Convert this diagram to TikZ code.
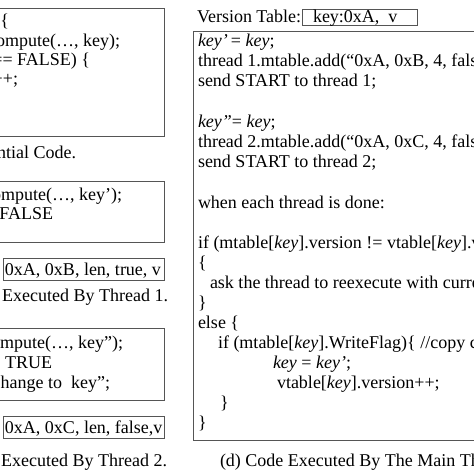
\documentclass[tikz,border=0pt]{standalone}
\usepackage{fontspec}
\setmainfont{Liberation Serif}
\usepackage{tikz}
\usetikzlibrary{positioning}
\definecolor{Frame}{HTML}{555555}

\begin{document}
\begin{tikzpicture}[x=1pt,y=-1pt,font=\fontsize{18}{20.2}\selectfont,
  every node/.style={inner sep=0pt,outer sep=0pt},
  frame/.style={draw=Frame,line width=0.9pt,rectangle},
  codeline/.style={anchor=base west},
  cutline/.style={anchor=base east}]
  \fill[white] (0,0) rectangle (474,474);
  \clip (0,0) rectangle (474,474);
  % (a) sequential code
  \node[frame,anchor=north east,minimum width=170pt,minimum height=128pt] (seqbox) at (164,8) {};
  \node[cutline] (seq1) at (9,26) {for (i = 0; i < n; i++)\{};
  \node[cutline] (seq2) at (120,46) {r = compute(…, key);};
  \node[cutline] (seq3) at (90,65) {if (r == FALSE)\ \{};
  \node[cutline] (seq4) at (18,84) {count++;};
  \node[cutline] (capa) at (76,158) {(a) Sequential Code.};
  % (b) thread 1
  \node[frame,anchor=north east,minimum width=170pt,minimum height=61pt] (tonebox) at (164,181) {};
  \node[cutline] (tone1) at (122,200) {r = compute(…, key’);};
  \node[cutline] (tone2) at (53,219) {flag = FALSE};
  \node[frame,anchor=north west,minimum width=161pt,minimum height=22pt] (tonetab) at (3,258) {};
  \node[codeline] (tonerow) at (5,275) {0xA, 0xB, len, true, v};
  \node[cutline] (capb) at (168,301) {(b) Code Executed By Thread 1.};
  % (c) thread 2
  \node[frame,anchor=north east,minimum width=170pt,minimum height=72pt] (ttwobox) at (164,328) {};
  \node[cutline] (ttwo1) at (123,348) {r = compute(…, key”);};
  \node[cutline] (ttwo2) at (52,368) {flag = TRUE};
  \node[cutline] (ttwo3) at (110,388) {r = change to\ \ key”;};
  \node[frame,anchor=north west,minimum width=161pt,minimum height=22pt] (ttwotab) at (3,416) {};
  \node[codeline] (ttworow) at (5,433) {0xA, 0xC, len, false,v};
  \node[cutline] (capc) at (167,466) {(c) Code Executed By Thread 2.};
  % (d) main thread
  \node[codeline] (vlabel) at (197,22) {Version Table:};
  \node[frame,anchor=north west,minimum width=115pt,minimum height=16pt] (vtab) at (302,9) {};
  \node[codeline] (ventry) at (313,22) {key:0xA,\ \ v};
  \node[frame,anchor=north west,minimum width=300pt,minimum height=409pt] (mainbox) at (193,31) {};
  \foreach \x/\y/\t [count=\k] in {
      198/46/{\textit{key’}\,= \textit{key};},
      198/66/{thread 1.mtable.add(“0xA, 0xB, 4, false, v”);},
      198/86/{send START to thread 1;},
      198/127/{\textit{key”}= \textit{key};},
      198/147/{thread 2.mtable.add(“0xA, 0xC, 4, false, v”);},
      198/167/{send START to thread 2;},
      198/208/{when each thread is done:},
      198/248/{if (mtable[\textit{key}].version != vtable[\textit{key}].version)},
      198/268/{\{},
      210/288/{ask the thread to reexecute with current values;},
      198/308/{\}},
      198/328/{else \{},
      218/348/{if (mtable[\textit{key}].WriteFlag)\{ //copy changes},
      273/368/{\textit{key} = \textit{key’};},
      277/388/{vtable[\textit{key}].version++;},
      220/408/{\}},
      198/428/{\}}}
    \node[codeline] (main\k) at (\x,\y) {\t};
  \node[codeline] (capd) at (220,466) {(d) Code Executed By The Main Thread.};
\end{tikzpicture}
\end{document}
